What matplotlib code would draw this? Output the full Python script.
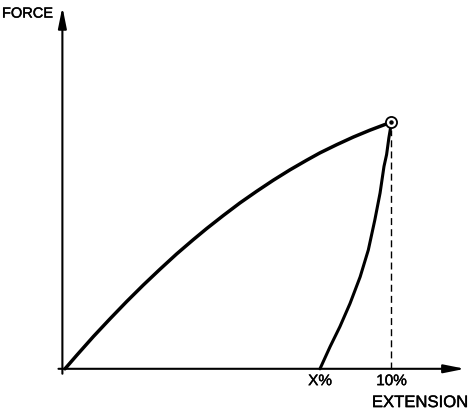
import matplotlib
matplotlib.use("Agg")
import matplotlib.pyplot as plt
import matplotlib.patheffects as pe

plt.rcParams["font.family"] = ["Liberation Sans", "DejaVu Sans"]

# loading curve (extension %, force as % of peak)
load_x = [0.0, 0.36, 0.87, 1.38, 1.89, 2.40, 2.91, 3.42, 3.93, 4.34, 4.85,
          5.36, 5.87, 6.38, 6.89, 7.40, 7.81, 8.32, 8.83, 9.34, 9.80, 10.0]
load_y = [0.0, 5.5, 13.1, 20.3, 27.3, 34.0, 40.4, 46.6, 52.4, 56.9, 62.2,
          67.3, 72.0, 76.5, 80.7, 84.6, 87.6, 90.9, 94.0, 96.8, 99.1, 100.0]

# unloading / recovery curve
unload_x = [7.81, 8.12, 8.42, 8.73, 9.04, 9.29, 9.49, 9.65, 9.77, 9.85, 9.92, 10.0]
unload_y = [0.0, 9.0, 17.1, 26.5, 37.3, 48.2, 60.4, 71.3, 82.1, 86.9, 93.7, 100.0]

peak = (10.0, 100.0)
tick_pos = [7.81, 10.0]
tick_labels = ["X%", "10%"]

fig = plt.figure(figsize=(4.74, 4.17), dpi=100)
ax = fig.add_axes([0, 0, 1, 1])
ax.set_xlim(-1.991, 12.527)
ax.set_ylim(-19.55, 149.6)
ax.axis("off")

# axes with arrowheads
arrow = dict(arrowstyle="-|>,head_length=0.9,head_width=0.18", color="black",
             lw=1.5, mutation_scale=14, shrinkA=0, shrinkB=0)
ax.annotate("", xy=(12.25, 0), xytext=(-0.2, 0), arrowprops=arrow)
ax.annotate("", xy=(-0.08, 146.8), xytext=(-0.08, -2.0), arrowprops=arrow)

ax.plot(load_x, load_y, color="black", lw=2.5, solid_capstyle="round",
        solid_joinstyle="round")
ax.plot(unload_x, unload_y, color="black", lw=2.2, solid_capstyle="round",
        solid_joinstyle="round")

# dashed drop line at 10%
ax.plot([peak[0], peak[0]], [0, peak[1] - 3], color="black", lw=1.0,
        ls=(0, (5, 3)))

# open circle with centre dot at peak
ax.plot(*peak, marker="o", ms=8, mfc="white", mec="black", mew=1.3, zorder=5)
ax.plot(*peak, marker="o", ms=2.2, color="black", zorder=6)

thick = [pe.withStroke(linewidth=0.3, foreground="black")]
for xp, lab in zip(tick_pos, tick_labels):
    ax.text(xp, -5.0, lab, ha="center", va="center", fontsize=11,
            path_effects=thick)

ax.text(-1.93, 144.1, "FORCE", ha="left", va="center", fontsize=10.5,
        path_effects=thick)
ax.text(12.34, -13.7, "EXTENSION", ha="right", va="center", fontsize=12,
        path_effects=thick)

fig.savefig("out.png", dpi=100)
